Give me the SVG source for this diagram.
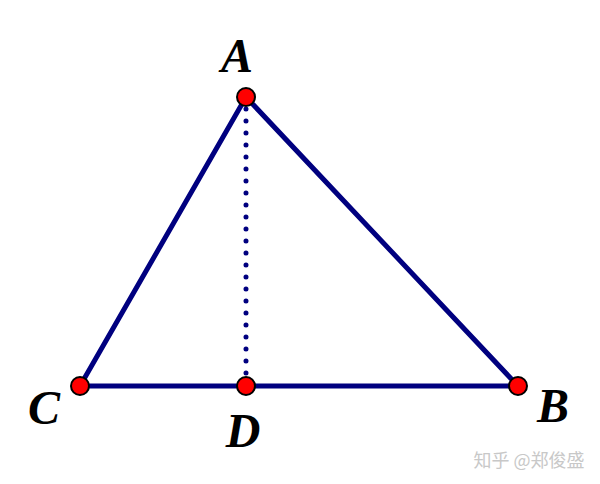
<svg xmlns="http://www.w3.org/2000/svg" width="600" height="484" viewBox="0 0 600 484">
<style>
.lbl{font-family:"Liberation Serif",serif;font-weight:bold;font-style:italic;font-size:48px;fill:#000;text-anchor:middle}
.side{stroke:#00007f;stroke-width:5;fill:none;stroke-linecap:round}
.pt{fill:#ff0000;stroke:#000;stroke-width:2}
</style>
<rect width="600" height="484" fill="#fff"/>
<g id="connectors">
<line class="side" x1="246" y1="97" x2="80" y2="386"/>
<line class="side" x1="246" y1="97" x2="518" y2="386"/>
<line class="side" x1="80" y1="386" x2="518" y2="386"/>
<line x1="246" y1="109" x2="246" y2="380" stroke="#00007f" stroke-width="5" stroke-linecap="round" stroke-dasharray="0 12"/>
</g>
<g id="A"><circle class="pt" cx="246" cy="97" r="9"/><text class="lbl" x="237" y="72">A</text></g>
<g id="C"><circle class="pt" cx="80" cy="386" r="9"/><text class="lbl" x="44" y="424">C</text></g>
<g id="D"><circle class="pt" cx="246" cy="386" r="9"/><text class="lbl" x="243" y="447">D</text></g>
<g id="B"><circle class="pt" cx="518" cy="386" r="9"/><text class="lbl" x="553" y="422">B</text></g>
<text x="529" y="467" font-family="'Noto Sans CJK SC',sans-serif" font-size="18" fill="#c8c8c8" text-anchor="middle">知乎 @郑俊盛</text>
</svg>
